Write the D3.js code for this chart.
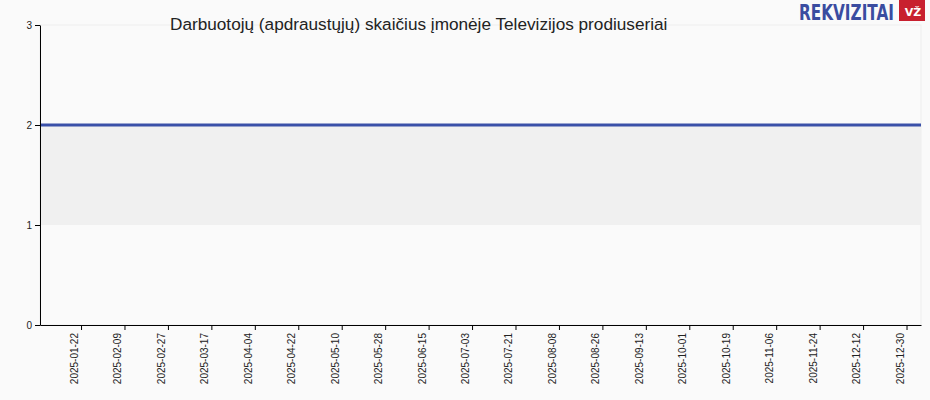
<!DOCTYPE html><html><head><meta charset="utf-8"><script src="https://cdn.jsdelivr.net/npm/d3@7"></script>
<style>body{margin:0;background:#fafafa}</style></head><body><svg id="c" width="930" height="400"></svg>
<script>
const title="Darbuotojų (apdraustųjų) skaičius įmonėje Televizijos prodiuseriai";
const dates=["2025-01-05","2026-01-05"];
const values=[2,2];
const band=[1,2];
const yTicks=[0,1,2,3];
const xTicks=["2025-01-22","2025-02-09","2025-02-27","2025-03-17","2025-04-04","2025-04-22","2025-05-10","2025-05-28","2025-06-15","2025-07-03","2025-07-21","2025-08-08","2025-08-26","2025-09-13","2025-10-01","2025-10-19","2025-11-06","2025-11-24","2025-12-12","2025-12-30"];
const p=d3.timeParse("%Y-%m-%d");
const svg=d3.select("#c");
const L=40,R=921,T=25,B=325;
const x=d3.scaleTime().domain(dates.map(p)).range([L,R]);
const y=d3.scaleLinear().domain([0,3]).range([B,T]);
svg.append("rect").attr("x",0).attr("y",0).attr("width",930).attr("height",400).attr("fill","#fafafa");
svg.append("rect").attr("x",L).attr("y",T).attr("width",R-L).attr("height",B-T).attr("fill","#fafafa").attr("stroke","#eeeeee");
svg.append("rect").attr("x",L).attr("width",R-L).attr("y",y(band[1])).attr("height",y(band[0])-y(band[1])).attr("fill","#f0f0f0");
svg.append("path").datum(dates.map((d,i)=>[p(d),values[i]])).attr("fill","none").attr("stroke","#3a50a8").attr("stroke-width",3)
 .attr("d",d3.line().x(d=>x(d[0])).y(d=>y(d[1])));
const ya=svg.append("g").attr("transform",`translate(${L},0)`).call(d3.axisLeft(y).tickValues(yTicks).tickFormat(d3.format("d")).tickSize(5).tickSizeOuter(0));
ya.selectAll("text").attr("font-family","Liberation Sans").attr("font-size",10).attr("fill","#222");
const xa=svg.append("g").attr("transform",`translate(0,${B})`).call(d3.axisBottom(x).tickValues(xTicks.map(p)).tickFormat(d3.timeFormat("%Y-%m-%d")).tickSize(5).tickSizeOuter(0));
xa.selectAll("text").attr("font-family","Liberation Sans").attr("font-size",10).attr("fill","#222")
 .attr("transform","rotate(-90)").attr("text-anchor","end").attr("dx","-8").attr("dy","-0.35em").attr("y",0).attr("x",0);
svg.selectAll(".domain,.tick line").attr("stroke","#000");
svg.append("text").attr("x",170).attr("y",30).attr("font-family","Liberation Sans").attr("font-size",17.2).attr("fill","#222").text(title);
const lg=svg.append("text").attr("x",0).attr("y",0).attr("font-family","DejaVu Sans Condensed").attr("font-weight","bold").attr("font-size",22).attr("fill","#3a4ca0").text("REKVIZITAI");
const w=lg.node().getComputedTextLength();
lg.attr("transform",`translate(799,20) scale(${95/w},1)`);
svg.append("rect").attr("x",899).attr("y",0).attr("width",26).attr("height",21).attr("fill","#c8202f");
svg.append("text").attr("x",913).attr("y",16).attr("text-anchor","middle").attr("font-family","DejaVu Sans").attr("font-weight","bold").attr("font-size",11).attr("fill","#fff").text("VŽ");
</script></body></html>
